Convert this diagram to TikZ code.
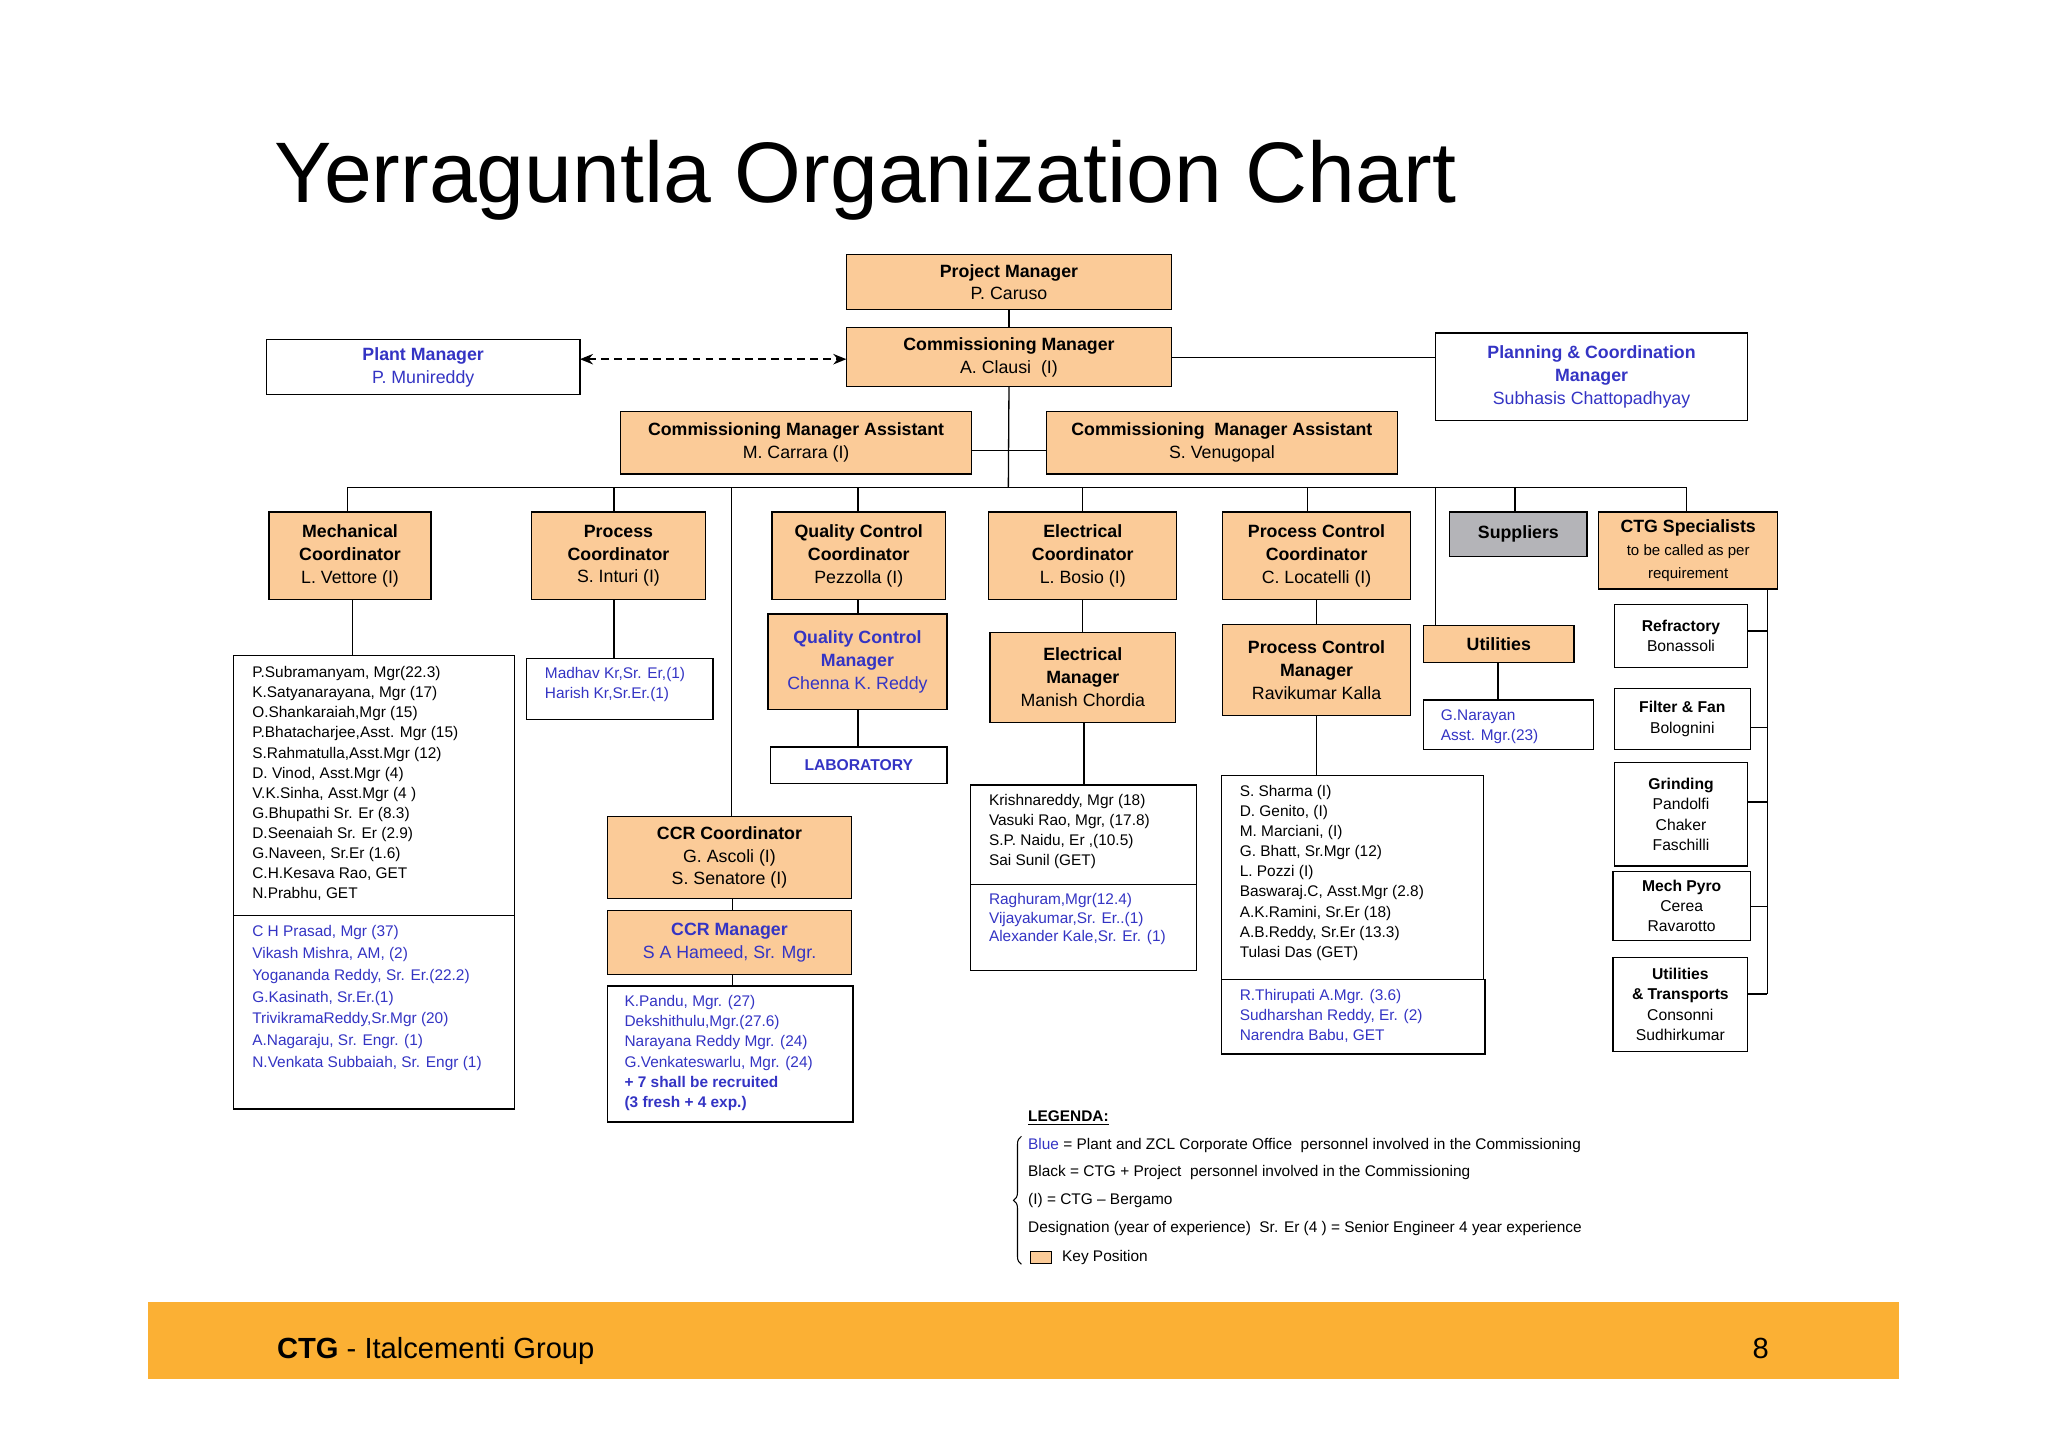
\documentclass[tikz,border=0pt]{standalone}
\usepackage{fontspec}
\setmainfont{Liberation Sans}
\usetikzlibrary{arrows.meta,decorations.pathreplacing}
\definecolor{peach}{HTML}{FBCB98}
\definecolor{bl}{HTML}{3434C4}
\definecolor{band}{HTML}{FBB034}
\definecolor{gr}{HTML}{B4B4B8}
\newcommand\bx[7]{\node[#6,minimum width={#4-#2},minimum height={#5-#3}] (#1) at ({(#2+#4)/2},{(#3+#5)/2}) {#7};}
\newcommand\fs[2]{\fontsize{#1}{#2}\selectfont}
\tikzset{
 base/.style={draw=black,line width=1pt,inner sep=0pt,outer sep=0pt,align=center,font=\fs{13.6}{17.5}},
 key/.style={base,fill=peach},
 wbox/.style={base,fill=white},
 gbox/.style={base,fill=gr},
 lst/.style={anchor=north west,align=left,inner sep=0pt,font=\fs{11.8}{15.4}},
 ln/.style={line width=1pt},
}
\begin{document}
\begin{tikzpicture}[x=1pt,y=-1pt]
\useasboundingbox (0,0) rectangle (1568,1107.9);
\node[anchor=base west,inner sep=0pt,font=\fs{65.8}{72}] (title) at (210,155) {Yerraguntla Organization Chart};
% top
\bx{pm}{648}{195}{897}{237}{key}{\textbf{Project Manager}\\P. Caruso}
\bx{cm}{648}{251}{897}{296}{key}{\textbf{Commissioning Manager}\\A. Clausi\ \ (I)}
\bx{plant}{204}{260}{444}{302}{wbox}{\textcolor{bl}{\textbf{Plant Manager}}\\\textcolor{bl}{P. Munireddy}}
\bx{plan}{1099}{255}{1338}{322}{wbox}{\textcolor{bl}{\textbf{Planning \& Coordination}}\\\textcolor{bl}{\textbf{Manager}}\\\textcolor{bl}{Subhasis Chattopadhyay}}
\bx{cma1}{475}{315}{744}{363}{key}{\textbf{Commissioning Manager Assistant}\\M. Carrara (I)}
\bx{cma2}{801}{315}{1070}{363}{key}{\textbf{Commissioning\ \ Manager Assistant}\\S. Venugopal}
\draw[ln] (pm) -- (cm);
\draw[ln] (cm.east) -- (cm.east -| plan.west);
\draw[line width=1.4pt,dash pattern=on 6pt off 4pt,{Stealth[length=10pt,width=8pt]}-{Stealth[length=10pt,width=8pt]}] (plant.east |- 0,275) -- (cm.west |- 0,275);
\coordinate (bar) at (772,373);
\draw[ln] (cm.south) -- (bar);
\draw[ln] (cma1.east |- 0,345) -- (cma2.west |- 0,345);
\draw[ln] (266,373) -- (1291,373);
% level 2
\bx{mech}{206}{392}{330}{459}{key}{\textbf{Mechanical}\\\textbf{Coordinator}\\L. Vettore (I)}
\bx{proc}{407}{392}{540}{459}{key}{\textbf{Process}\\\textbf{Coordinator}\\S. Inturi (I)}
\bx{qc}{591}{392}{724}{459}{key}{\textbf{Quality Control}\\\textbf{Coordinator}\\Pezzolla (I)}
\bx{el}{757}{392}{901}{459}{key}{\textbf{Electrical}\\\textbf{Coordinator}\\L. Bosio (I)}
\bx{pc}{936}{392}{1080}{459}{key}{\textbf{Process Control}\\\textbf{Coordinator}\\C. Locatelli (I)}
\bx{sup}{1110}{392}{1215}{426}{gbox}{\textbf{Suppliers}}
\bx{ctg}{1224}{392}{1361}{451}{key}{\textbf{CTG Specialists}\\{\fs{11.5}{15}to be called as per}\\{\fs{11.5}{15}requirement}}
\foreach \n/\x in {mech/266,proc/470,qc/657,el/829,pc/1001,sup/1160,ctg/1291}{
 \draw[ln] (\x,373) -- (\n.north -| \x,0);}
% mech
\bx{ml1}{179}{502}{394}{701}{wbox}{}
\bx{ml2}{179}{701}{394}{849}{wbox}{}
\node[lst] (mt1) at (193,510) {P.Subramanyam, Mgr(22.3)\\K.Satyanarayana, Mgr (17)\\O.Shankaraiah,Mgr (15)\\P.Bhatacharjee,Asst. Mgr (15)\\S.Rahmatulla,Asst.Mgr (12)\\D. Vinod, Asst.Mgr (4)\\V.K.Sinha, Asst.Mgr (4 )\\G.Bhupathi Sr. Er (8.3)\\D.Seenaiah Sr. Er (2.9)\\G.Naveen, Sr.Er (1.6)\\C.H.Kesava Rao, GET\\N.Prabhu, GET};
\node[lst,text=bl,font=\fs{11.8}{16.8}] (mt2) at (193,708) {C H Prasad, Mgr (37)\\Vikash Mishra, AM, (2)\\Yogananda Reddy, Sr. Er.(22.2)\\G.Kasinath, Sr.Er.(1)\\TrivikramaReddy,Sr.Mgr (20)\\A.Nagaraju, Sr. Engr. (1)\\N.Venkata Subbaiah, Sr. Engr (1)};
\draw[ln] (mech.south -| 270,0) -- (ml1.north -| 270,0);
% process
\bx{pl}{403}{504}{546}{551}{wbox}{}
\node[lst,text=bl] (pt) at (417,511) {Madhav Kr,Sr. Er,(1)\\Harish Kr,Sr.Er.(1)};
\draw[ln] (proc.south -| 470,0) -- (pl.north -| 470,0);
% QC
\bx{qcm}{588}{470}{725}{543}{key}{\textcolor{bl}{\textbf{Quality Control}}\\\textcolor{bl}{\textbf{Manager}}\\\textcolor{bl}{Chenna K. Reddy}}
\bx{lab}{590}{572}{725}{600}{wbox}{\fs{12}{14}\textcolor{bl}{\textbf{LABORATORY}}}
\draw[ln] (qc.south -| 657,0) -- (qcm.north -| 657,0);
\draw[ln] (qcm.south -| 657,0) -- (lab.north -| 657,0);
% CCR
\bx{ccr}{465}{625}{652}{688}{key}{\textbf{CCR Coordinator}\\G. Ascoli (I)\\S. Senatore (I)}
\bx{ccrm}{465}{697}{652}{746}{key}{\textcolor{bl}{\textbf{CCR Manager}}\\\textcolor{bl}{S A Hameed, Sr. Mgr.}}
\bx{ccl}{465}{755}{653}{859}{wbox}{}
\node[lst,text=bl] (cct) at (478,762) {K.Pandu, Mgr. (27)\\Dekshithulu,Mgr.(27.6)\\Narayana Reddy Mgr. (24)\\G.Venkateswarlu, Mgr. (24)\\\textbf{+ 7 shall be recruited}\\\textbf{(3 fresh + 4 exp.)}};
\draw[ln] (560,373) -- (ccr.north -| 560,0);
\draw[ln] (ccr.south -| 561,0) -- (ccrm.north -| 561,0);
\draw[ln] (ccrm.south -| 561,0) -- (ccl.north -| 561,0);
% electrical
\bx{elm}{758}{484}{900}{553}{key}{\textbf{Electrical}\\\textbf{Manager}\\Manish Chordia}
\bx{el1}{743}{601}{916}{677}{wbox}{}
\bx{el2}{743}{677}{916}{743}{wbox}{}
\node[lst] (et1) at (757,608) {Krishnareddy, Mgr (18)\\Vasuki Rao, Mgr, (17.8)\\S.P. Naidu, Er ,(10.5)\\Sai Sunil (GET)};
\node[lst,text=bl,font=\fs{11.8}{14}] (et2) at (757,684) {Raghuram,Mgr(12.4)\\Vijayakumar,Sr. Er..(1)\\Alexander Kale,Sr. Er. (1)};
\draw[ln] (el.south -| 829,0) -- (elm.north -| 829,0);
\draw[ln] (elm.south -| 830,0) -- (el1.north -| 830,0);
% process control
\bx{pcm}{936}{478}{1080}{548}{key}{\textbf{Process Control}\\\textbf{Manager}\\Ravikumar Kalla}
\bx{pc1}{935}{594}{1136}{750}{wbox}{}
\bx{pc2}{935}{750}{1137}{807}{wbox}{}
\node[lst] (pt1) at (949,601) {S. Sharma (I)\\D. Genito, (I)\\M. Marciani, (I)\\G. Bhatt, Sr.Mgr (12)\\L. Pozzi (I)\\Baswaraj.C, Asst.Mgr (2.8)\\A.K.Ramini, Sr.Er (18)\\A.B.Reddy, Sr.Er (13.3)\\Tulasi Das (GET)};
\node[lst,text=bl] (pt2) at (949,757) {R.Thirupati A.Mgr. (3.6)\\Sudharshan Reddy, Er. (2)\\Narendra Babu, GET};
\draw[ln] (pc.south -| 1008,0) -- (pcm.north -| 1008,0);
\draw[ln] (pcm.south -| 1008,0) -- (pc1.north -| 1008,0);
% utilities
\bx{ut}{1090}{479}{1205}{507}{key}{\textbf{Utilities}}
\bx{utl}{1090}{536}{1220}{574}{wbox}{}
\node[lst,text=bl] (utt) at (1103,543) {G.Narayan\\Asst. Mgr.(23)};
\draw[ln] (1099,373) -- (ut.north -| 1099,0);
\draw[ln] (ut.south -| 1147,0) -- (utl.north -| 1147,0);
% CTG subs
\tikzset{sub/.style={wbox,font=\fs{12}{15.5}}}
\bx{s1}{1236}{463}{1338}{511}{sub}{\textbf{Refractory}\\Bonassoli}
\bx{s2}{1236}{527}{1340}{574}{sub}{\textbf{Filter \& Fan}\\Bolognini}
\bx{s3}{1236}{584}{1338}{663}{sub}{\textbf{Grinding}\\Pandolfi\\Chaker\\Faschilli}
\bx{s4}{1235}{667}{1340}{720}{sub}{\textbf{Mech Pyro}\\Cerea\\Ravarotto}
\bx{s5}{1235}{733}{1338}{805}{sub}{\textbf{Utilities}\\\textbf{\& Transports}\\Consonni\\Sudhirkumar}
\draw[ln] (ctg.south -| 1353,0) -- (1353,761);
\foreach \s/\y in {s1/483,s2/557,s3/614,s4/694,s5/761}{
 \draw[ln] (\s.east |- 0,\y) -- (1353,\y);}
% legend
\node[anchor=base west,inner sep=0pt,font=\fs{11.8}{14}\bfseries] (lg) at (787,859) {\underline{LEGENDA:}};
\node[lst,anchor=base west] (l1) at (787,880) {\textcolor{bl}{Blue} = Plant and ZCL Corporate Office\ \ personnel involved in the Commissioning};
\node[lst,anchor=base west] (l2) at (787,901) {Black = CTG + Project\ \ personnel involved in the Commissioning};
\node[lst,anchor=base west] (l3) at (787,922) {(I) = CTG -- Bergamo};
\node[lst,anchor=base west] (l4) at (787,944) {Designation (year of experience)\ \ Sr. Er (4 ) = Senior Engineer 4 year experience};
\node[lst,anchor=base west] (l5) at (813,966) {Key Position};
\node[draw=black,line width=0.8pt,fill=peach,minimum width=16,minimum height=9,inner sep=0] (kp) at (797,962.5) {};
\draw[line width=0.8pt,decorate,decoration={brace,amplitude=6pt}] (782,968) -- (782,870);
% banner
\fill[band] (113,997) rectangle (1454,1056);
\node[anchor=base west,inner sep=0pt,font=\fs{22.3}{25}] (ft) at (212,1040) {\textbf{CTG} - Italcementi Group};
\node[anchor=base,inner sep=0pt,font=\fs{22.3}{25}] (pg) at (1348,1040) {8};
\end{tikzpicture}
\end{document}
